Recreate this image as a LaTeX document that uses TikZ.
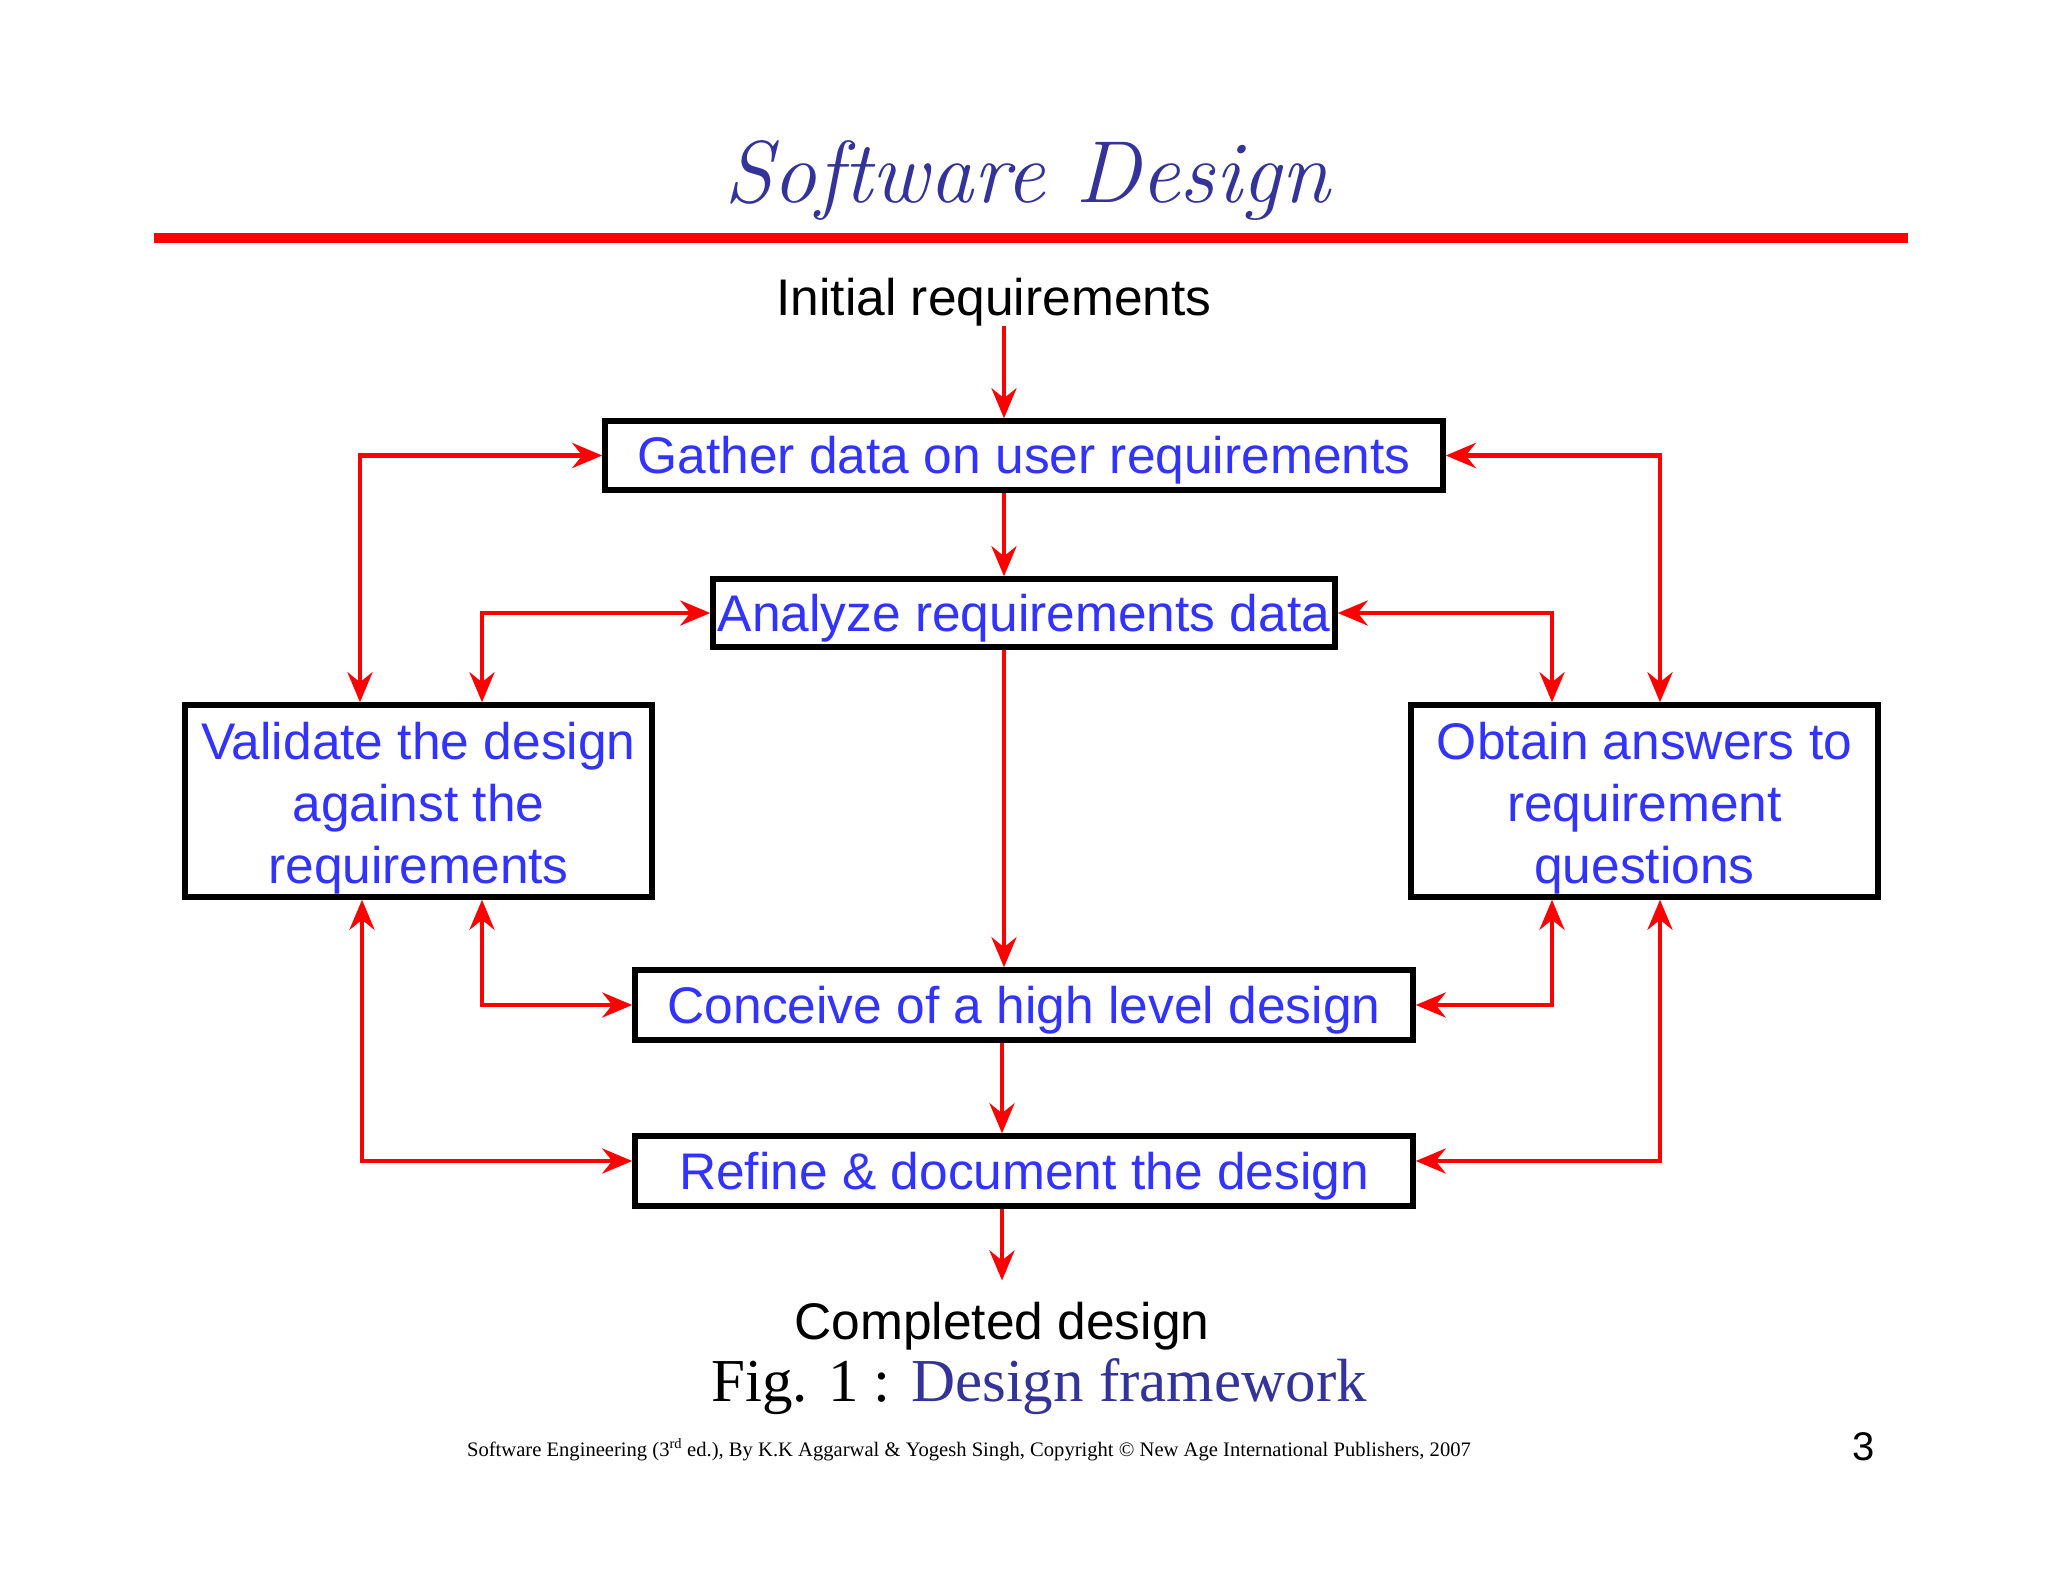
\documentclass[tikz,border=0pt]{standalone}
\usepackage{fontspec}
\usetikzlibrary{arrows.meta}
\newfontfamily\arialf{Liberation Sans}
\newfontfamily\timesf{Liberation Serif}
\definecolor{boxblue}{RGB}{51,51,255}
\definecolor{titleblue}{RGB}{51,51,153}
\definecolor{linered}{RGB}{255,0,0}
\tikzset{
  >={Stealth[length=30pt,width=25pt,inset=10pt]},
  conn/.style={draw=linered, line width=4.8pt},
  boxn/.style={draw=black, line width=5.5pt, fill=white, inner sep=0pt,
    font=\arialf\fontsize{51.5}{62}\selectfont, text=boxblue},
  oneline/.style={text height=41pt, text depth=5pt},
  plain/.style={inner sep=0pt, font=\arialf\fontsize{51.5}{62}\selectfont, text=black}
}
\newcommand{\toppad}{\rule{0pt}{52pt}}
\begin{document}
\begin{tikzpicture}[x=1pt,y=-1pt]
\useasboundingbox (0,0) rectangle (2048,1582);
\fill[white] (0,0) rectangle (2048,1582);

% title
\node[anchor=base, inner sep=0pt, text=titleblue, font=\itshape\fontsize{88}{100}\selectfont] (title) at (1027,202) {Software Design};
\coordinate (ruleL) at (154,238);
\coordinate (ruleR) at (1908,238);
\draw[linered, line width=10pt] (ruleL) -- (ruleR);

% texts
\node[plain, anchor=base] (init) at (994,315) {Initial requirements};
\node[plain, anchor=base] (done) at (1002,1339) {Completed design};

% boxes
\node[boxn, oneline, minimum width=838pt, minimum height=69pt] (gather) at (1024,455.5) {Gather data on user requirements};
\node[boxn, oneline, minimum width=622pt, minimum height=68pt] (analyze) at (1024,613) {Analyze requirements data};
\node[boxn, align=center, minimum width=467pt, minimum height=192pt] (validate) at (418.5,801) {\toppad Validate the design\\against the\\requirements};
\node[boxn, align=center, minimum width=467pt, minimum height=192pt] (obtain) at (1644.5,801) {\toppad Obtain answers to\\requirement\\questions};
\node[boxn, oneline, minimum width=778pt, minimum height=70pt] (conceive) at (1024,1005) {Conceive of a high level design};
\node[boxn, oneline, minimum width=778pt, minimum height=70pt] (refine) at (1024,1171) {Refine \& document the design};

% caption and footer
\node[anchor=base, inner sep=0pt, font=\timesf\fontsize{61}{70}\selectfont] (caption) at (1039,1401) {Fig. 1 : \textcolor{titleblue}{Design framework}};
\node[anchor=base, inner sep=0pt, font=\timesf\fontsize{20.6}{24}\selectfont] (footer) at (969,1456) {Software Engineering (3\textsuperscript{rd} ed.), By K.K Aggarwal \& Yogesh Singh, Copyright \textcopyright{} New Age International Publishers, 2007};
\node[anchor=base, inner sep=0pt, font=\arialf\fontsize{40}{48}\selectfont] (pagenum) at (1864,1460) {3};

% central column
\coordinate (cx1) at (1004,0);
\coordinate (cx2) at (1002,0);
\draw[conn,->] (init.south -| cx1) -- (cx1 |- gather.north);
\draw[conn,->] (cx1 |- gather.south) -- (cx1 |- analyze.north);
\draw[conn,->] (cx1 |- analyze.south) -- (cx1 |- conceive.north);
\draw[conn,->] (cx2 |- conceive.south) -- (cx2 |- refine.north);
\draw[conn,->, shorten >=21pt] (cx2 |- refine.south) -- (cx2 |- done.north);

% bend points
\coordinate (lo1) at (360,455.5);
\coordinate (li1) at (482,613);
\coordinate (ri1) at (1552,613);
\coordinate (ro1) at (1660,455.5);
\coordinate (li2) at (482,1005);
\coordinate (lo2) at (362,1161);
\coordinate (ri2) at (1552,1005);
\coordinate (ro2) at (1660,1161);

\draw[conn,<->] (gather.west) -- (lo1) -- (lo1 |- validate.north);
\draw[conn,<->] (analyze.west) -- (li1) -- (li1 |- validate.north);
\draw[conn,<->] (analyze.east) -- (ri1) -- (ri1 |- obtain.north);
\draw[conn,<->] (gather.east) -- (ro1) -- (ro1 |- obtain.north);
\draw[conn,<->] (li2 |- validate.south) -- (li2) -- (conceive.west);
\draw[conn,<->] (lo2 |- validate.south) -- (lo2) -- (lo2 -| refine.west);
\draw[conn,<->] (ri2 |- obtain.south) -- (ri2) -- (conceive.east);
\draw[conn,<->] (ro2 |- obtain.south) -- (ro2) -- (ro2 -| refine.east);
\end{tikzpicture}
\end{document}
